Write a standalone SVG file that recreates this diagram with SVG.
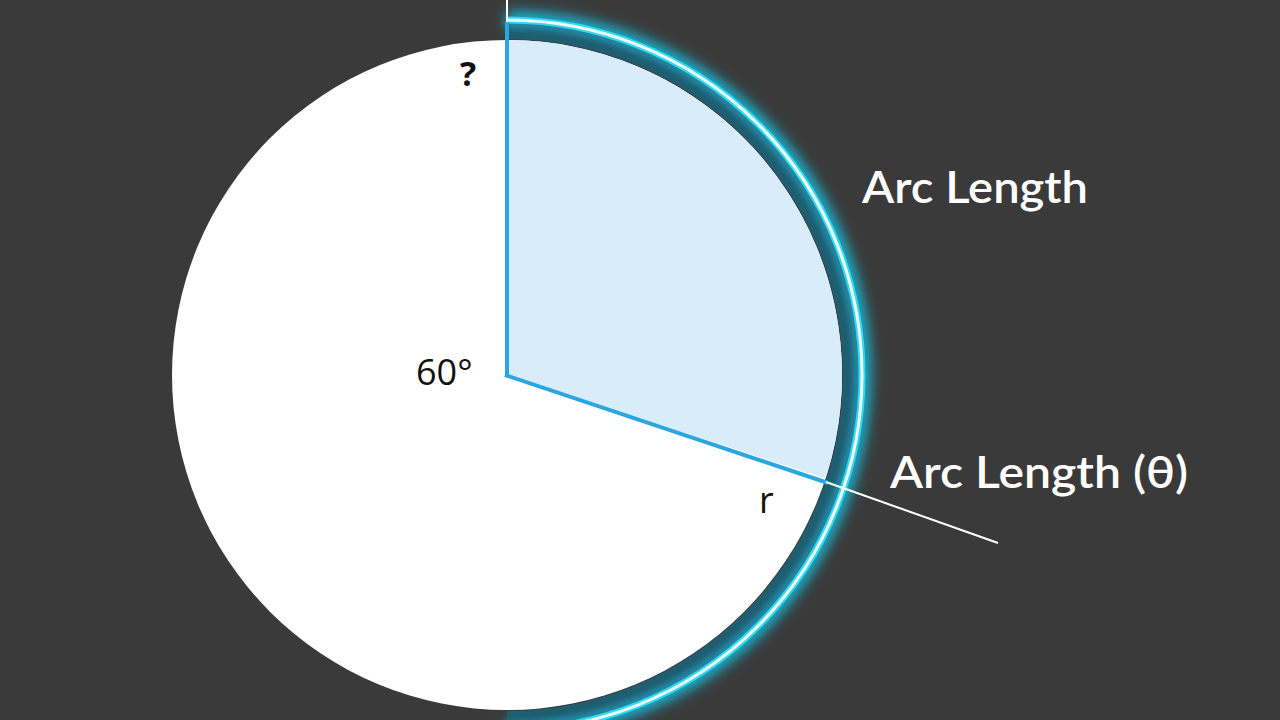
<svg xmlns="http://www.w3.org/2000/svg" width="1280" height="720" viewBox="0 0 1280 720">
<defs>
<style>
.lbl{font-family:Lato,"Open Sans","Liberation Sans",sans-serif;fill:#ffffff;font-size:44px;font-weight:600}
.dark{font-family:"Open Sans",Lato,"Liberation Sans",sans-serif;fill:#111111;font-size:36px}
</style>
<filter id="glow" x="-20%" y="-20%" width="140%" height="140%">
<feGaussianBlur stdDeviation="7"/>
</filter>
<filter id="soft" x="-20%" y="-20%" width="140%" height="140%">
<feGaussianBlur stdDeviation="3"/>
</filter>
</defs>
<rect width="1280" height="720" fill="#3a3a3a"/>
<g id="glow-arc">
<path d="M507 20 A355 355 0 0 1 507 730" fill="none" stroke="#18c4e6" stroke-width="16" filter="url(#glow)"/>
<path d="M507 30 A345 345 0 0 1 507 720" fill="none" stroke="#1f5d70" stroke-width="18"/>
<path d="M507 24 A351 351 0 0 1 507 726" fill="none" stroke="#2290ad" stroke-width="8" filter="url(#soft)"/>
<path d="M507 20 A355 355 0 0 1 507 730" fill="none" stroke="#30d8f2" stroke-width="7"/>
<path d="M507 20 A355 355 0 0 1 507 730" fill="none" stroke="#f2fdff" stroke-width="3"/>
</g>
<g id="circle">
<circle cx="507" cy="375" r="335" fill="#ffffff"/>
</g>
<g id="sector">
<path d="M507 375 L507 40 A335 335 0 0 1 825.6 478.5 Z" fill="#d9ecf9"/>
</g>
<g id="connectors">
<line x1="507" y1="0" x2="507" y2="22" stroke="#ffffff" stroke-width="2"/>
<line x1="507" y1="22" x2="507" y2="377" stroke="#2aa6e0" stroke-width="4"/>
<line x1="505" y1="375" x2="828" y2="483" stroke="#2aa6e0" stroke-width="4"/>
<line x1="826" y1="482" x2="998" y2="543" stroke="#ffffff" stroke-width="2"/>
</g>
<g id="labels">
<text class="lbl" x="862" y="203" textLength="226" lengthAdjust="spacingAndGlyphs">Arc Length</text>
<text class="lbl" x="890" y="488" textLength="298" lengthAdjust="spacingAndGlyphs">Arc Length (θ)</text>
<text class="dark" x="416" y="385">60°</text>
<text class="dark" x="759" y="513">r</text>
<text class="dark" x="460" y="86" style="font-size:34px;font-weight:bold">?</text>
</g>
</svg>
